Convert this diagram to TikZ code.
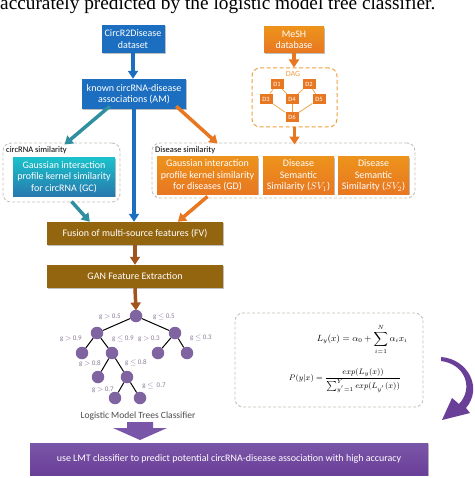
\documentclass[tikz,border=0pt]{standalone}
\usepackage{fontspec}
\setmainfont{Carlito}
\newfontfamily\serifcap{Liberation Serif}
\usetikzlibrary{arrows.meta,shadows,calc}
\definecolor{cblue}{HTML}{1C6FC0}
\definecolor{cteal}{HTML}{2F8EA0}
\definecolor{corange}{HTML}{E87722}
\definecolor{cbrown}{HTML}{94650F}
\definecolor{cbrownarr}{HTML}{A0541E}
\definecolor{cpurple}{HTML}{7A56A8}
\definecolor{cpurpled}{HTML}{6A3F98}
\definecolor{ctree}{HTML}{8064A2}
\definecolor{cglab}{HTML}{8A7A98}
\definecolor{cgdash}{HTML}{C8C0B8}
\definecolor{codash}{HTML}{F0A040}
\tikzset{
  shad/.style={drop shadow={shadow xshift=1pt,shadow yshift=-1pt,opacity=0.25,fill=black}},
  boxfont/.style={font=\fontsize{10}{11.5}\selectfont},
  bluebox/.style={shad,fill=cblue,text=white,align=center,boxfont,inner sep=1pt},
  orbox/.style={shad,top color=corange!80!yellow,bottom color=corange,draw=none,text=white,align=center,boxfont,inner sep=1pt},
  tealbox/.style={shad,top color=cteal!55!cyan,bottom color=cteal!85!blue,text=white,align=center,boxfont,inner sep=1pt},
  brbox/.style={shad,fill=cbrown,text=white,align=center,boxfont,inner sep=1pt},
  grpbox/.style={draw=cgdash,dashed,line width=0.9pt,rounded corners=8pt,dash pattern=on 3pt off 2pt},
  dnode/.style={fill=corange,text=white,font=\fontsize{6.5}{7}\selectfont,minimum width=13pt,minimum height=10pt,inner sep=0pt},
  fatarrow/.style={line width=3.5pt,-{Triangle[width=10pt,length=8pt]}},
  tnode/.style={circle,fill=ctree,minimum size=12.5pt,inner sep=0pt},
  tedge/.style={line width=1pt,black},
  glab/.style={text=cglab,font=\fontsize{7}{8}\selectfont,inner sep=0pt},
}
\begin{document}
\begin{tikzpicture}[x=1pt,y=-1pt]
\useasboundingbox (0,0) rectangle (474,478);
\fill[white] (0,0) rectangle (474,478);
% top caption line (cut)
\node[anchor=base west,inner sep=0pt,font=\serifcap\fontsize{19.3}{21}\selectfont] (cap) at (0,9.5) {accurately predicted by the logistic model tree classifier.};

% top boxes
\node[bluebox,minimum width=63pt,minimum height=28pt] (cd) at (133,39) {CircR2Disease\\dataset};
\node[bluebox,minimum width=104pt,minimum height=30pt] (am) at (134,94) {known circRNA-disease\\associations (AM)};
\node[orbox,minimum width=60pt,minimum height=26pt] (mesh) at (294,40) {MeSH\\database};

% DAG
\node[draw=codash,dashed,line width=1pt,rounded corners=8pt,dash pattern=on 4pt off 2.5pt,minimum width=85pt,minimum height=59pt] (dag) at (294.5,97.5) {};
\node[text=codash,font=\fontsize{8}{9}\selectfont,inner sep=0pt] (daglab) at (293,74) {DAG};
\node[dnode] (d1) at (277,84) {D1};
\node[dnode] (d2) at (309,84) {D2};
\node[dnode] (d3) at (266,99) {D3};
\node[dnode] (d4) at (292,99) {D4};
\node[dnode] (d5) at (319,99) {D5};
\node[dnode] (d6) at (292,117) {D6};
\foreach \a/\b in {d1/d3,d1/d4,d2/d4,d2/d5,d3/d6,d4/d6,d5/d6}
  \draw[codash,line width=0.7pt] (\a) -- (\b);

% similarity groups
\node[grpbox,minimum width=117pt,minimum height=59pt] (csim) at (61.5,172.5) {};
\node[anchor=west,font=\fontsize{8.5}{9}\selectfont,inner sep=0pt] (csimlab) at (6,150) {circRNA similarity};
\node[tealbox,minimum width=102pt,minimum height=38pt] (gc) at (64,177) {Gaussian interaction\\profile kernel similarity\\for circRNA (GC)};

\node[grpbox,minimum width=263pt,minimum height=55pt] (dsim) at (283.5,170.5) {};
\node[anchor=west,font=\fontsize{8.5}{9}\selectfont,inner sep=0pt] (dsimlab) at (155,150) {Disease similarity};
\node[orbox,minimum width=101pt,minimum height=37pt] (gd) at (207.5,175.5) {Gaussian interaction\\profile kernel similarity\\for diseases (GD)};
\node[orbox,minimum width=71pt,minimum height=37pt] (sv1) at (298.5,175.5) {Disease\\Semantic\\Similarity ($SV_1$)};
\node[orbox,minimum width=71pt,minimum height=37pt] (sv2) at (373.5,175.5) {Disease\\Semantic\\Similarity ($SV_2$)};

% fusion & GAN
\node[brbox,minimum width=176pt,minimum height=23pt] (fv) at (135,233.5) {Fusion of multi-source features (FV)};
\node[brbox,minimum width=176pt,minimum height=23pt] (gan) at (135,276.5) {GAN Feature Extraction};

% arrows
\draw[fatarrow,cblue] (cd.south) -- (cd.south |- am.north);
\draw[fatarrow,corange] (mesh.south) -- (mesh.south |- dag.north);
\draw[fatarrow,corange] (dag.south) -- ([yshift=-2pt]dag.south |- dsim.north);
\draw[fatarrow,cteal] ([xshift=28pt,yshift=3pt]am.south west) -- ([xshift=62pt,yshift=-2pt]csim.north west);
\draw[fatarrow,cblue] (am.south) -- (am.south |- fv.north);
\draw[fatarrow,corange] ([xshift=-10pt,yshift=3pt]am.south east) -- ([xshift=66pt,yshift=-1pt]dsim.north west);
\draw[fatarrow,cteal] ([xshift=10pt,yshift=1pt]csim.south) -- ([xshift=43pt]fv.north west);
\draw[fatarrow,corange] ([xshift=56pt,yshift=2pt]dsim.south west) -- ([xshift=131pt]fv.north west);
\draw[fatarrow,cbrownarr] (fv.south) -- (gan.north);

% tree
\node[tnode] (r) at (136,316) {};
\node[tnode] (n1) at (97,333) {};
\node[tnode] (n2) at (175,333) {};
\node[tnode] (n11) at (82,353) {};
\node[tnode] (n12) at (112,353) {};
\node[tnode] (n21) at (158,353) {};
\node[tnode] (n22) at (187,353) {};
\node[tnode] (n121) at (98,377) {};
\node[tnode] (n122) at (127,377) {};
\node[tnode] (n1221) at (115,398) {};
\node[tnode] (n1222) at (140,398) {};
\draw[fatarrow,cbrownarr] (gan.south) -- ([yshift=-1pt]r.north);
\foreach \a/\b in {r/n1,r/n2,n1/n11,n1/n12,n2/n21,n2/n22,n12/n121,n12/n122,n122/n1221,n122/n1222}
  \draw[tedge] (\a) -- (\b);
\node[glab] (l1) at (110,317) {g $>$ 0.5};
\node[glab] (l2) at (164,317) {g $\le$ 0.5};
\node[glab] (l3) at (71,339) {g $>$ 0.9};
\node[glab] (l4) at (123,339) {g $\le$ 0.9};
\node[glab] (l5) at (149,339) {g $>$ 0.3};
\node[glab] (l6) at (201,338) {g $\le$ 0.3};
\node[glab] (l7) at (90,364) {g $>$ 0.8};
\node[glab] (l8) at (136,363) {g $\le$ 0.8};
\node[glab] (l9) at (103,390) {g $>$ 0.7};
\node[glab] (l10) at (154,386) {g $\le$\ \ 0.7};
\node[text=black!70,font=\fontsize{9.5}{11}\selectfont,inner sep=0pt] (lmt) at (138,416) {Logistic Model Trees Classifier};

% block arrow
\fill[cpurple] (127,422) -- (153,422) -- (153,428) -- (167,428) -- (140,440) -- (113,428) -- (127,428) -- cycle;

% final box
\node[shad,top color=cpurple,bottom color=cpurpled,text=white,font=\fontsize{10}{11}\selectfont,minimum width=398pt,minimum height=32pt,inner sep=0pt] (fin) at (229,459) {use LMT classifier to predict potential circRNA-disease association with high accuracy};

% formula box
\node[grpbox,minimum width=188pt,minimum height=94pt] (fbox) at (329,360) {};
\node[font=\fontsize{9}{11}\selectfont,inner sep=0pt] (f1) at (362,339) {$\displaystyle L_y(x)=\alpha_0+\sum_{i=1}^{N}\alpha_i x_i$};
\node[font=\fontsize{8.5}{10}\selectfont,inner sep=0pt] (f2) at (345,381) {$\displaystyle P(y|x)=\frac{exp(L_y(x))}{\sum_{y^{'}=1}^{Y} exp(L_{y^{'}}(x))}$};

% curved arrow
\fill[cpurpled] (441,357) .. controls (468,359) and (483,388) .. (466,408) -- (470,413) -- (442,420) -- (452,398) -- (459,404) .. controls (474,388) and (465,364) .. (441,361) -- cycle;
\end{tikzpicture}
\end{document}
